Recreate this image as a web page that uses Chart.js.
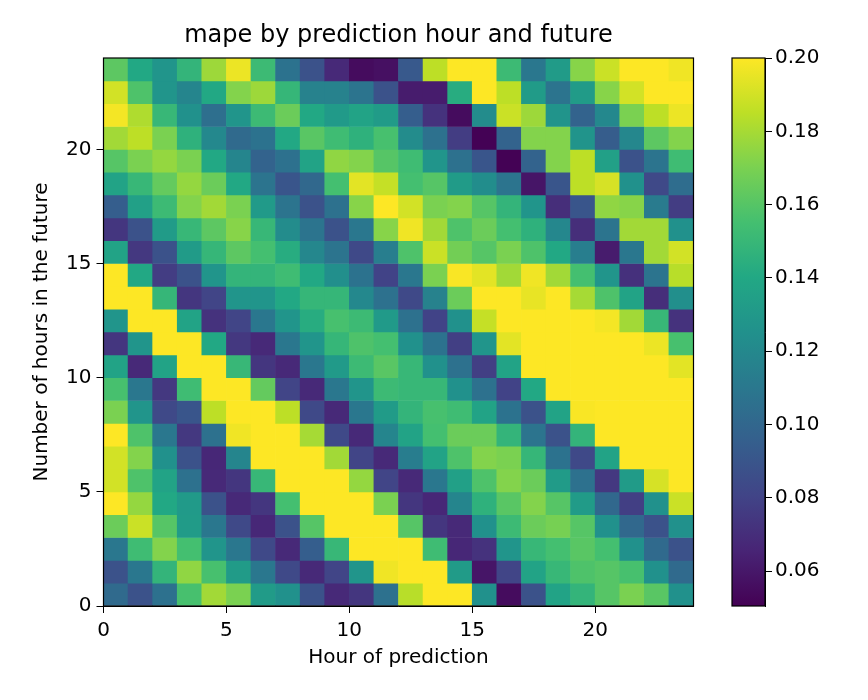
<!DOCTYPE html>
<html>
<head>
<meta charset="utf-8">
<script src="https://cdn.jsdelivr.net/npm/chart.js@4.4.1/dist/chart.umd.min.js"></script>
<style>
  body { margin: 0; background: #fff; }
  #wrap { position: relative; width: 868px; height: 700px; }
  #heat { position: absolute; left: 0; top: 0; }
  #cbar { position: absolute; left: 700px; top: 0; }
</style>
</head>
<body>
<div id="wrap">
  <canvas id="heat" width="720" height="700" style="width:720px;height:700px"></canvas>
  <canvas id="cbar" width="168" height="700" style="width:168px;height:700px"></canvas>
</div>
<script>
// hour of prediction (columns) and hours in the future (rows)
const predHours = [0,1,2,3,4,5,6,7,8,9,10,11,12,13,14,15,16,17,18,19,20,21,22,23];
const futureHours = [0,1,2,3,4,5,6,7,8,9,10,11,12,13,14,15,16,17,18,19,20,21,22,23];

// mape[row = hours in the future][col = hour of prediction]
const mape = [
  [0.102,0.088,0.106,0.156,0.179,0.170,0.132,0.125,0.088,0.068,0.074,0.106,0.184,0.200,0.200,0.125,0.055,0.088,0.137,0.148,0.160,0.170,0.161,0.125],
  [0.088,0.110,0.148,0.175,0.156,0.132,0.110,0.083,0.068,0.081,0.128,0.197,0.200,0.200,0.132,0.059,0.081,0.137,0.150,0.158,0.160,0.156,0.125,0.102],
  [0.110,0.153,0.172,0.155,0.128,0.110,0.083,0.068,0.095,0.150,0.200,0.200,0.200,0.153,0.067,0.072,0.128,0.150,0.155,0.161,0.155,0.125,0.102,0.088],
  [0.166,0.188,0.160,0.132,0.110,0.083,0.067,0.088,0.160,0.200,0.200,0.200,0.160,0.074,0.068,0.125,0.152,0.166,0.169,0.160,0.125,0.101,0.088,0.125],
  [0.200,0.176,0.140,0.131,0.088,0.068,0.074,0.155,0.200,0.200,0.200,0.170,0.074,0.067,0.118,0.146,0.161,0.172,0.160,0.132,0.101,0.078,0.125,0.188],
  [0.190,0.158,0.137,0.106,0.068,0.074,0.150,0.200,0.200,0.200,0.176,0.081,0.068,0.110,0.135,0.158,0.172,0.166,0.132,0.106,0.075,0.132,0.191,0.200],
  [0.190,0.172,0.125,0.088,0.067,0.118,0.200,0.200,0.200,0.179,0.081,0.068,0.113,0.137,0.158,0.172,0.170,0.149,0.107,0.083,0.137,0.200,0.200,0.200],
  [0.200,0.158,0.110,0.075,0.106,0.197,0.200,0.200,0.180,0.083,0.068,0.118,0.137,0.155,0.166,0.166,0.148,0.108,0.088,0.148,0.200,0.200,0.200,0.200],
  [0.170,0.128,0.083,0.090,0.185,0.200,0.200,0.185,0.083,0.068,0.110,0.132,0.148,0.156,0.153,0.137,0.107,0.088,0.137,0.199,0.200,0.200,0.200,0.200],
  [0.156,0.110,0.075,0.153,0.200,0.200,0.164,0.081,0.068,0.110,0.128,0.152,0.150,0.150,0.125,0.106,0.080,0.140,0.200,0.200,0.200,0.200,0.200,0.200],
  [0.137,0.068,0.137,0.200,0.200,0.150,0.074,0.068,0.110,0.131,0.152,0.161,0.150,0.125,0.106,0.078,0.137,0.200,0.200,0.200,0.200,0.200,0.200,0.194],
  [0.074,0.128,0.200,0.200,0.140,0.075,0.068,0.110,0.128,0.149,0.158,0.155,0.125,0.107,0.078,0.128,0.194,0.200,0.200,0.200,0.200,0.200,0.196,0.156],
  [0.128,0.200,0.200,0.137,0.072,0.081,0.110,0.128,0.143,0.156,0.152,0.131,0.106,0.080,0.125,0.187,0.200,0.200,0.200,0.200,0.198,0.179,0.150,0.072],
  [0.200,0.200,0.149,0.074,0.081,0.128,0.128,0.140,0.149,0.149,0.120,0.106,0.083,0.116,0.166,0.200,0.200,0.195,0.200,0.180,0.158,0.137,0.070,0.124],
  [0.200,0.140,0.077,0.088,0.128,0.148,0.148,0.153,0.140,0.124,0.107,0.080,0.110,0.170,0.199,0.194,0.179,0.197,0.179,0.155,0.128,0.071,0.108,0.184],
  [0.137,0.075,0.088,0.132,0.149,0.162,0.155,0.143,0.119,0.108,0.083,0.114,0.158,0.188,0.168,0.160,0.170,0.158,0.140,0.114,0.062,0.110,0.179,0.190],
  [0.074,0.088,0.132,0.150,0.162,0.173,0.150,0.122,0.108,0.088,0.110,0.173,0.197,0.179,0.158,0.166,0.155,0.146,0.119,0.070,0.108,0.179,0.179,0.125],
  [0.095,0.135,0.152,0.172,0.179,0.170,0.131,0.108,0.088,0.106,0.173,0.200,0.190,0.170,0.172,0.160,0.148,0.128,0.070,0.090,0.175,0.173,0.112,0.077],
  [0.137,0.150,0.164,0.176,0.166,0.140,0.108,0.090,0.101,0.155,0.194,0.187,0.155,0.160,0.132,0.123,0.108,0.059,0.090,0.185,0.191,0.125,0.083,0.104],
  [0.160,0.170,0.176,0.170,0.140,0.118,0.098,0.106,0.137,0.175,0.172,0.160,0.153,0.128,0.106,0.090,0.051,0.098,0.172,0.185,0.135,0.088,0.108,0.153],
  [0.179,0.185,0.170,0.146,0.120,0.102,0.107,0.140,0.161,0.153,0.146,0.156,0.122,0.106,0.077,0.051,0.098,0.172,0.172,0.127,0.094,0.119,0.162,0.172],
  [0.198,0.182,0.150,0.125,0.105,0.128,0.152,0.166,0.140,0.131,0.137,0.132,0.095,0.072,0.055,0.122,0.188,0.178,0.127,0.098,0.120,0.170,0.185,0.196],
  [0.190,0.158,0.128,0.118,0.140,0.172,0.178,0.149,0.116,0.116,0.108,0.088,0.062,0.062,0.143,0.200,0.185,0.132,0.108,0.132,0.173,0.190,0.200,0.200],
  [0.162,0.140,0.128,0.148,0.178,0.196,0.152,0.107,0.088,0.068,0.055,0.057,0.092,0.185,0.200,0.200,0.152,0.110,0.132,0.173,0.188,0.200,0.200,0.197]
];

const xTicks = [0, 5, 10, 15, 20];
const yTicks = [0, 5, 10, 15, 20];
const cbTicks = [0.06, 0.08, 0.10, 0.12, 0.14, 0.16, 0.18, 0.20];
const cbMin = 0.0505;
const cbMax = 0.20;

const titleText = "mape by prediction hour and future";
const font = "'DejaVu Sans', 'Liberation Sans', sans-serif";

// viridis stops at t = 0, 0.1, ... 1
const viridis = ["#440154","#482475","#414487","#355f8d","#2a788e","#21918c","#22a884","#44bf70","#7ad151","#bddf26","#fde725"];

function hexRgb(h) {
    return [parseInt(h.slice(1, 3), 16), parseInt(h.slice(3, 5), 16), parseInt(h.slice(5, 7), 16)];
}

function colorFor(v) {
    let t = (v - cbMin) / (cbMax - cbMin);
    t = Math.max(0, Math.min(1, t));
    const pos = t * (viridis.length - 1);
    const i = Math.min(Math.floor(pos), viridis.length - 2);
    const f = pos - i;
    const a = hexRgb(viridis[i]), b = hexRgb(viridis[i + 1]);
    const c = a.map((x, k) => Math.round(x + (b[k] - x) * f));
    return `rgb(${c[0]},${c[1]},${c[2]})`;
}

// one floating bar per cell
const cells = [];
const cellColors = [];
futureHours.forEach((fh, r) => {
    predHours.forEach((ph, c) => {
        cells.push({ x: ph + 0.5, y: [fh, fh + 1] });
        cellColors.push(colorFor(mape[r][c]));
    });
});

const frame = {
    id: "frame",
    afterDatasetsDraw(chart) {
        const { ctx, chartArea: a } = chart;
        ctx.save();
        ctx.strokeStyle = "#000";
        ctx.lineWidth = 1.2;
        ctx.strokeRect(a.left, a.top, a.right - a.left, a.bottom - a.top);
        ctx.restore();
    }
};

const plotTitle = {
    id: "plotTitle",
    afterDraw(chart) {
        const { ctx, chartArea: a } = chart;
        ctx.save();
        ctx.font = "24px " + font;
        ctx.fillStyle = "#000";
        ctx.textAlign = "center";
        ctx.textBaseline = "middle";
        ctx.fillText(titleText, (a.left + a.right) / 2, 36);
        ctx.restore();
    }
};

const tickFont = { family: font, size: 20 };

new Chart(document.getElementById("heat"), {
    type: "bar",
    data: {
        datasets: [{
            data: cells,
            backgroundColor: cellColors,
            borderWidth: 0,
            barPercentage: 1,
            categoryPercentage: 1
        }]
    },
    options: {
        responsive: false,
        animation: false,
        layout: { padding: { left: 0, top: 58, right: 26.5, bottom: 0 } },
        plugins: { legend: { display: false }, tooltip: { enabled: false } },
        scales: {
            x: {
                type: "linear",
                min: 0,
                max: 24,
                offset: false,
                afterBuildTicks: s => { s.ticks = xTicks.map(v => ({ value: v })); },
                afterFit: s => { s.height = 94; },
                grid: { drawOnChartArea: false, drawTicks: true, tickLength: 7, color: "#000", offset: false },
                border: { color: "#000" },
                ticks: { color: "#000", font: tickFont, padding: 6, maxRotation: 0 },
                title: { display: true, text: "Hour of prediction", color: "#000", font: tickFont, padding: { top: 0, bottom: 30 } }
            },
            y: {
                type: "linear",
                min: 0,
                max: 24,
                afterBuildTicks: s => { s.ticks = yTicks.map(v => ({ value: v })); },
                afterFit: s => { s.width = 103.5; },
                grid: { drawOnChartArea: false, drawTicks: true, tickLength: 7, color: "#000" },
                border: { color: "#000" },
                ticks: { color: "#000", font: tickFont, padding: 5 },
                title: { display: true, text: "Number of hours in the future", color: "#000", font: tickFont, padding: { top: 30, bottom: 0 } }
            }
        }
    },
    plugins: [frame, plotTitle]
});

new Chart(document.getElementById("cbar"), {
    type: "bar",
    data: {
        labels: ["mape"],
        datasets: [{
            data: [[cbMin, cbMax]],
            backgroundColor: c => {
                const a = c.chart.chartArea;
                if (!a) return "#000";
                const g = c.chart.ctx.createLinearGradient(0, a.bottom, 0, a.top);
                viridis.forEach((s, i) => g.addColorStop(i / (viridis.length - 1), s));
                return g;
            },
            borderWidth: 0,
            barPercentage: 1,
            categoryPercentage: 1
        }]
    },
    options: {
        responsive: false,
        animation: false,
        layout: { padding: { left: 32, top: 58, right: 0, bottom: 94 } },
        plugins: { legend: { display: false }, tooltip: { enabled: false } },
        scales: {
            x: { display: false },
            y: {
                position: "right",
                min: cbMin,
                max: cbMax,
                afterBuildTicks: s => { s.ticks = cbTicks.map(v => ({ value: v })); },
                afterFit: s => { s.width = 103; },
                grid: { drawOnChartArea: false, drawTicks: true, tickLength: 7, color: "#000" },
                border: { color: "#000" },
                ticks: { color: "#000", font: tickFont, padding: 3, callback: v => v.toFixed(2) }
            }
        }
    },
    plugins: [frame]
});
</script>
</body>
</html>
